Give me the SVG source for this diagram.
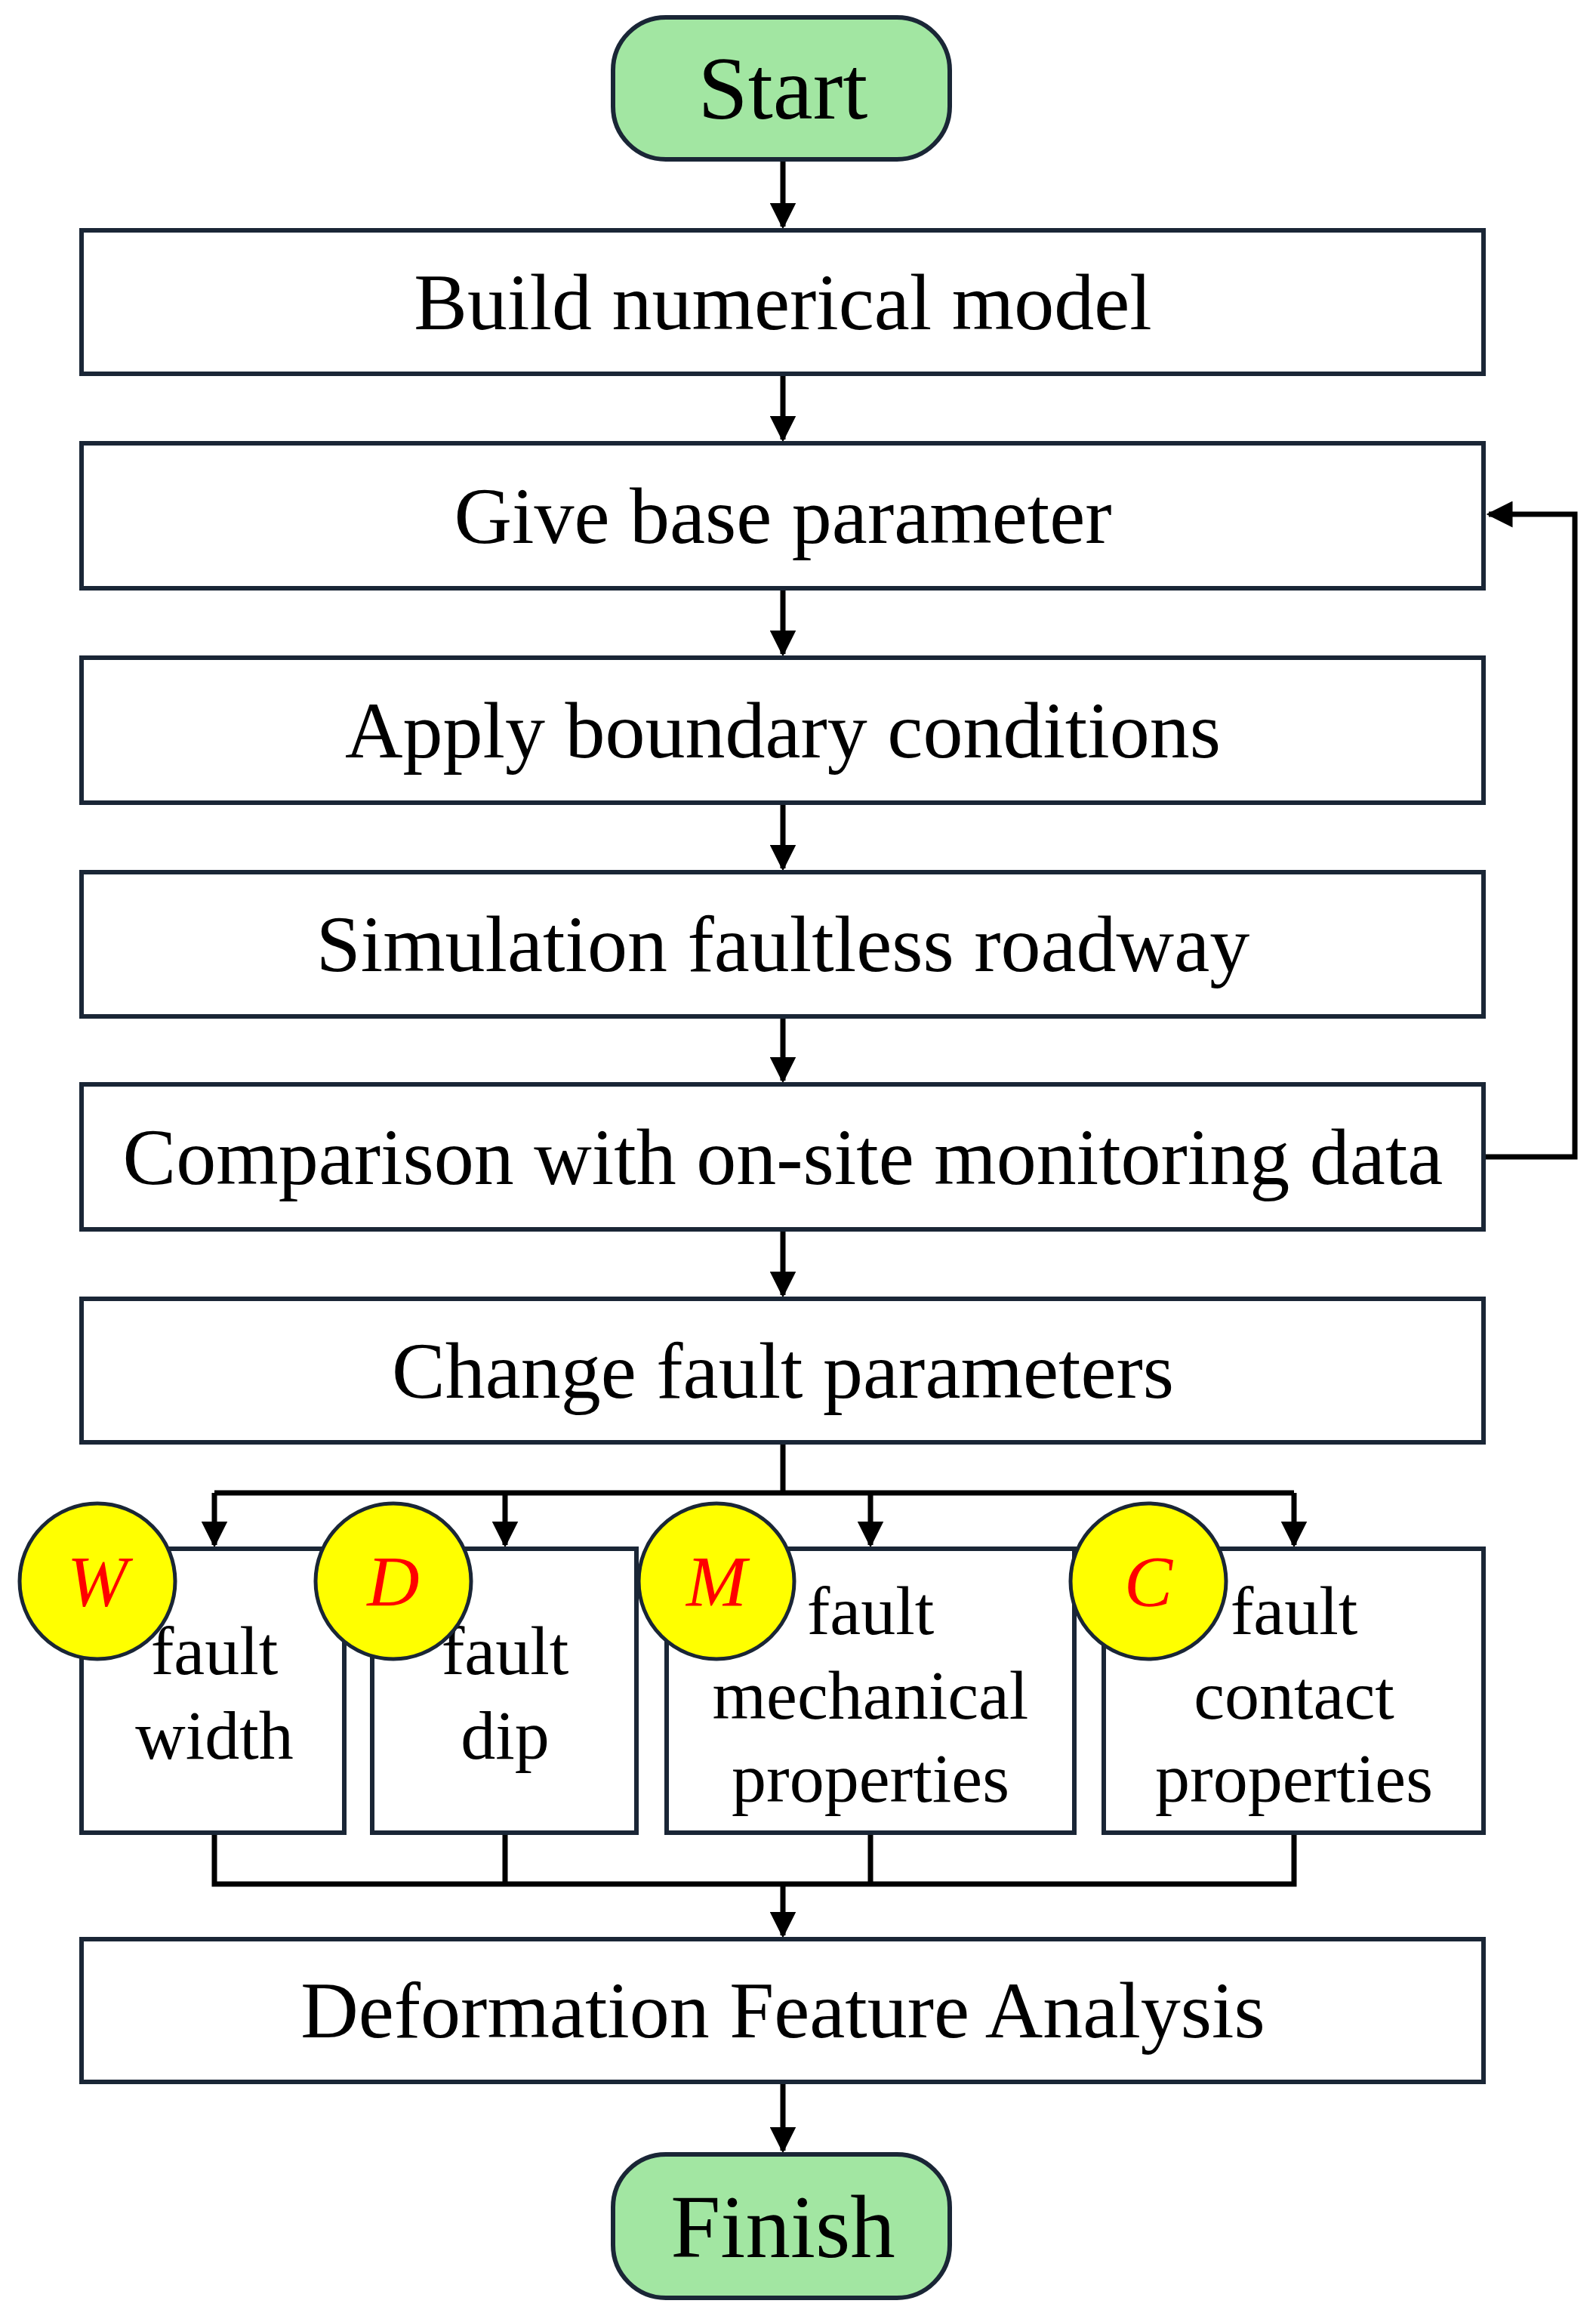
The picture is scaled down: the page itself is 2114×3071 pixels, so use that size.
<svg xmlns="http://www.w3.org/2000/svg" width="2114" height="3071" viewBox="0 0 2114 3071">
<style>
.b{fill:#fff;stroke:#1a2636;stroke-width:6}
.term{fill:#a2e6a2;stroke:#1a2636;stroke-width:6}
.c{fill:#ffff00;stroke:#1a2636;stroke-width:5}
text{font-family:"Liberation Serif","Times New Roman",serif;fill:#000;text-anchor:middle}
.m{font-size:106px}
.s{font-size:92px}
.l{font-family:"Liberation Serif",serif;font-style:italic;font-size:96px;fill:#ff0000}
.ln{fill:none;stroke:#000;stroke-width:7}
</style>
<defs><marker id="a" viewBox="0 0 10 10" refX="9" refY="5" markerWidth="5" markerHeight="5" markerUnits="strokeWidth" orient="auto"><path d="M0,0L10,5L0,10z" fill="#000"/></marker></defs>
<rect width="2114" height="3071" fill="#fff"/>
<g id="connectors">
<path class="ln" d="M1037 211V300" marker-end="url(#a)"/>
<path class="ln" d="M1037 495V582" marker-end="url(#a)"/>
<path class="ln" d="M1037 779V866" marker-end="url(#a)"/>
<path class="ln" d="M1037 1063V1150" marker-end="url(#a)"/>
<path class="ln" d="M1037 1346V1431" marker-end="url(#a)"/>
<path class="ln" d="M1037 1628V1715" marker-end="url(#a)"/>
<path class="ln" d="M1965 1532H2086V681H1972" marker-end="url(#a)"/>
<path class="ln" d="M1037 1910V1977M284 1977H1714"/>
<path class="ln" d="M284 1977V2046" marker-end="url(#a)"/>
<path class="ln" d="M669 1977V2046" marker-end="url(#a)"/>
<path class="ln" d="M1153 1977V2046" marker-end="url(#a)"/>
<path class="ln" d="M1714 1977V2046" marker-end="url(#a)"/>
<path class="ln" d="M284 2427V2495H1714V2427M669 2427V2495M1153 2427V2495"/>
<path class="ln" d="M1037 2495V2563" marker-end="url(#a)"/>
<path class="ln" d="M1037 2757V2848" marker-end="url(#a)"/>
</g>
<g id="start"><rect class="term" x="812" y="23" width="446" height="188" rx="70"/><text x="1037" y="157" font-size="119">Start</text></g>
<g id="n1"><rect class="b" x="108" y="305" width="1857" height="190"/><text class="m" x="1037" y="436">Build numerical model</text></g>
<g id="n2"><rect class="b" x="108" y="587" width="1857" height="192"/><text class="m" x="1037" y="719">Give base parameter</text></g>
<g id="n3"><rect class="b" x="108" y="871" width="1857" height="192"/><text class="m" x="1037" y="1003">Apply boundary conditions</text></g>
<g id="n4"><rect class="b" x="108" y="1155" width="1857" height="191"/><text class="m" x="1037" y="1286">Simulation faultless roadway</text></g>
<g id="n5"><rect class="b" x="108" y="1436" width="1857" height="192"/><text class="m" x="1037" y="1568">Comparison with on-site monitoring data</text></g>
<g id="n6"><rect class="b" x="108" y="1720" width="1857" height="190"/><text class="m" x="1037" y="1851">Change fault parameters</text></g>
<g id="wbox"><rect class="b" x="108" y="2051" width="348" height="376"/><text class="s" x="284" y="2217">fault</text><text class="s" x="284" y="2329">width</text><circle class="c" cx="129" cy="2094" r="103"/><text class="l" x="129" y="2127">W</text></g>
<g id="dbox"><rect class="b" x="493" y="2051" width="350" height="376"/><text class="s" x="669" y="2217">fault</text><text class="s" x="669" y="2329">dip</text><circle class="c" cx="521" cy="2094" r="103"/><text class="l" x="521" y="2127">D</text></g>
<g id="mbox"><rect class="b" x="883" y="2051" width="540" height="376"/><text class="s" x="1153" y="2164">fault</text><text class="s" x="1153" y="2276">mechanical</text><text class="s" x="1153" y="2386">properties</text><circle class="c" cx="949" cy="2094" r="103"/><text class="l" x="949" y="2127">M</text></g>
<g id="cbox"><rect class="b" x="1462" y="2051" width="503" height="376"/><text class="s" x="1714" y="2164">fault</text><text class="s" x="1714" y="2276">contact</text><text class="s" x="1714" y="2386">properties</text><circle class="c" cx="1521" cy="2094" r="103"/><text class="l" x="1521" y="2127">C</text></g>
<g id="n7"><rect class="b" x="108" y="2568" width="1857" height="189"/><text class="m" x="1037" y="2698">Deformation Feature Analysis</text></g>
<g id="finish"><rect class="term" x="812" y="2853" width="446" height="190" rx="70"/><text x="1037" y="2989" font-size="119">Finish</text></g>
</svg>
